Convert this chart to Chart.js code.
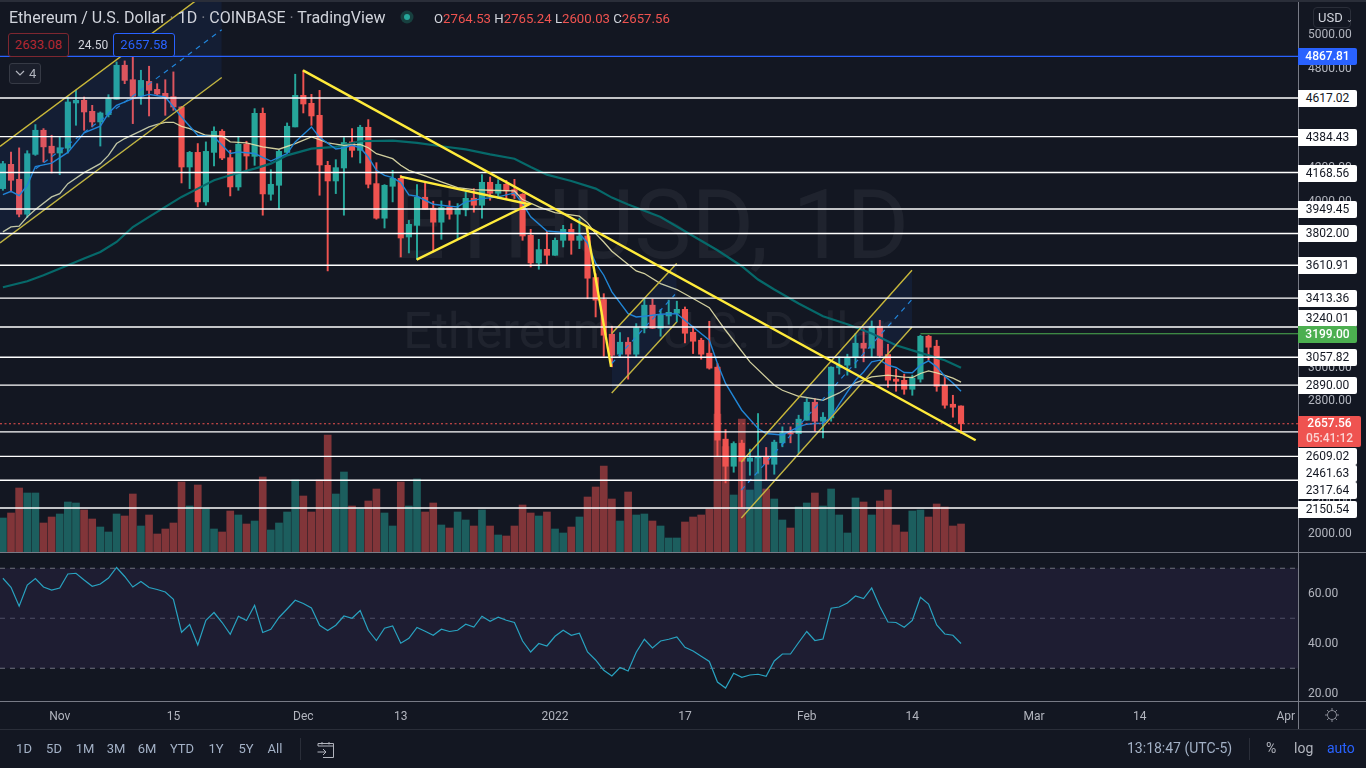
<!DOCTYPE html>
<html>
<head>
<meta charset="utf-8">
<title>ETHUSD 1D</title>
<script src="https://cdn.jsdelivr.net/npm/chart.js@4/dist/chart.umd.min.js"></script>
<style>
html, body { margin: 0; padding: 0; background: #131722; overflow: hidden; }
body { width: 1366px; height: 768px; position: relative; font-family: Roboto, sans-serif; }
canvas { position: absolute; left: 0; top: 0; }
.abs { position: absolute; white-space: nowrap; }
.rule { position: absolute; background: #787b86; }
.tag { position: absolute; left: 1298px; width: 59px; height: 17px; line-height: 17px; text-align: center; font-size: 12px; background: #fff; color: #131722; border-radius: 0 2px 2px 0; }
.btn { position: absolute; top: 741px; font-size: 13px; color: #a3b1c6; transform: translateX(-50%); }
.box { position: absolute; top: 33px; height: 22px; line-height: 22px; text-align: center; font-size: 13px; border-radius: 3px; border: 1px solid; background: #131722; }
</style>
</head>
<body>
<canvas id="grafik" width="1366" height="768"></canvas>

<div class="abs" style="left:0;top:0;width:1366px;height:2px;background:#2a2e39"></div>
<div class="rule" style="left:0;top:552px;width:1366px;height:1px"></div>
<div class="rule" style="left:0;top:701px;width:1366px;height:1px"></div>
<div class="rule" style="left:0;top:729px;width:1366px;height:1px;background:#2a2e39"></div>
<div class="rule" style="left:1298px;top:701px;width:1px;height:28px"></div>

<div class="abs" style="left:9px;top:8px;font-size:16px;color:#d1d4dc">Ethereum / U.S. Dollar <span style="color:#787b86">·</span> 1D <span style="color:#787b86">·</span> COINBASE <span style="color:#787b86">·</span> TradingView</div>
<svg class="abs" style="left:399px;top:9px" width="16" height="16"><circle cx="8" cy="8" r="6.5" fill="#17403f"/><circle cx="8" cy="8" r="3" fill="#26a69a"/></svg>
<div class="abs" style="left:434px;top:11px;font-size:13.2px;color:#d1d4dc">O<span style="color:#ef5350">2764.53</span> H<span style="color:#ef5350">2765.24</span> L<span style="color:#ef5350">2600.03</span> C<span style="color:#ef5350">2657.56</span></div>
<div class="box" style="left:8px;width:59px;color:#b22833;border-color:#7d2730">2633.08</div>
<div class="abs" style="left:78px;top:38px;font-size:12px;color:#d1d4dc">24.50</div>
<div class="box" style="left:113px;width:60px;color:#2962ff;border-color:#2962ff">2657.58</div>
<div class="abs" style="left:9px;top:63px;width:30px;height:19px;border:1px solid #363a45;border-radius:3px;background:#1b1f2b"></div>
<svg class="abs" style="left:15px;top:69px" width="10" height="8"><path d="M1 2 L5 6 L9 2" fill="none" stroke="#b2b5be" stroke-width="1.2"/></svg>
<div class="abs" style="left:29px;top:66px;font-size:13px;color:#b2b5be">4</div>
<div class="abs" style="left:1313px;top:7px;width:36px;height:19px;line-height:19px;border:1px solid #2a2e39;border-radius:4px;font-size:13px;color:#d1d4dc;text-indent:4px">USD <span style="font-size:8px;color:#b2b5be">⌄</span></div>

<div class="btn" style="left:24px">1D</div>
<div class="btn" style="left:54px">5D</div>
<div class="btn" style="left:85px">1M</div>
<div class="btn" style="left:116px">3M</div>
<div class="btn" style="left:147px">6M</div>
<div class="btn" style="left:182px">YTD</div>
<div class="btn" style="left:216px">1Y</div>
<div class="btn" style="left:246px">5Y</div>
<div class="btn" style="left:275px">All</div>
<div class="rule" style="left:300px;top:738px;width:1px;height:22px;background:#2a2e39"></div>
<svg class="abs" style="left:317px;top:741px" width="18" height="18" fill="none" stroke="#b2b5be" stroke-width="1"><path d="M1 5 V2.5 H16.5 V16.5 H6 M1 5 H16.5 M5 1 V3.5 M12 1 V3.5 M0.5 11 H9 M6 8 L9 11 L6 14"/></svg>
<div class="abs" style="left:1127px;top:740px;font-size:14px;color:#a3b1c6">13:18:47 (UTC-5)</div>
<div class="rule" style="left:1249px;top:738px;width:1px;height:22px;background:#2a2e39"></div>
<div class="abs" style="left:1266px;top:740px;font-size:14px;color:#b2b5be">%</div>
<div class="abs" style="left:1294px;top:740px;font-size:14px;color:#b2b5be">log</div>
<div class="abs" style="left:1327px;top:740px;font-size:14px;color:#2962ff">auto</div>
<svg class="abs" style="left:1324px;top:707px" width="16" height="16" fill="none" stroke="#868993" stroke-width="1"><circle cx="8" cy="8" r="4.5"/><path d="M8 1 V3.5 M8 12.5 V15 M1 8 H3.5 M12.5 8 H15 M3 3 L4.8 4.8 M11.2 11.2 L13 13 M3 13 L4.8 11.2 M11.2 4.8 L13 3"/></svg>

<script>
// Mumlar: Oct 25 = 0, Feb 20 = 118, birer gün
const opens = [
  4072,4218,4128,3918,4278,4423,4327,4286,4315,4587,
  4603,4537,4473,4517,4609,4814,4727,4629,4717,4669,
  4645,4625,4563,4202,4290,3992,4290,4417,4258,4082,
  4339,4266,4525,4038,4092,4290,4443,4633,4585,4513,
  4212,4118,4196,4353,4302,4441,4102,3894,4086,4134,
  3781,3851,4020,3954,3870,3960,3918,3944,4014,3972,
  4110,4044,4098,4066,4038,3791,3625,3707,3671,3761,
  3827,3761,3787,3537,3405,3196,3076,3148,3076,3232,
  3371,3232,3306,3322,3346,3208,3160,3082,2998,2565,
  2402,2541,2432,2452,2462,2414,2543,2603,2598,2679,
  2787,2673,2693,2994,3010,3056,3142,3112,3244,3074,
  2926,2919,2865,2926,3184,3124,2889,2775,2764.53
];
const highs = [
  4236,4292,4317,4300,4457,4433,4393,4383,4623,4663,
  4623,4573,4533,4637,4834,4840,4864,4784,4808,4703,
  4727,4774,4567,4296,4343,4353,4443,4427,4303,4387,
  4357,4553,4557,4186,4303,4467,4760,4784,4639,4663,
  4236,4246,4379,4433,4453,4487,4228,4096,4182,4152,
  3881,4096,4108,3996,3998,3998,3982,4052,4072,4156,
  4142,4126,4122,4128,4042,3827,3767,3815,3775,3851,
  3861,3892,3841,3560,3440,3244,3206,3176,3260,3411,
  3407,3345,3401,3395,3360,3244,3172,3274,3020,2623,
  2549,2559,2505,2719,2515,2559,2639,2639,2709,2809,
  2809,2725,3000,3060,3076,3200,3230,3276,3280,3136,
  2986,2956,2950,3190,3190,3160,2944,2829,2765.24
];
const lows = [
  4062,4052,3902,3898,4272,4232,4166,4156,4286,4453,
  4423,4443,4328,4503,4609,4703,4463,4579,4509,4633,
  4513,4543,4106,4072,3962,3972,4208,4246,4028,4062,
  4172,4212,3912,4002,3948,4286,4443,4527,4453,4032,
  3577,4042,3912,4262,4226,4076,3888,3835,3992,3661,
  3685,3645,3948,3691,3767,3888,3771,3908,3930,3894,
  4002,4012,4012,4012,3761,3601,3587,3617,3671,3721,
  3677,3711,3410,3300,3064,3000,3060,2926,3060,3204,
  3230,3184,3256,3270,3144,3080,3046,2986,2463,2302,
  2366,2158,2348,2360,2318,2354,2519,2543,2479,2679,
  2613,2573,2673,2956,2950,2994,3030,3056,3056,2877,
  2853,2835,2829,2908,3040,2853,2751,2697,2600.03
];
const closes = [
  4222,4122,3918,4282,4423,4323,4286,4318,4593,4603,
  4533,4473,4527,4613,4814,4723,4627,4723,4663,4641,
  4621,4563,4202,4290,3992,4296,4417,4256,4082,4339,
  4268,4525,4040,4098,4296,4447,4633,4581,4509,4214,
  4118,4198,4349,4302,4441,4098,3894,4092,4134,3775,
  3857,4020,3948,3870,3958,3918,3948,4014,3972,4110,
  4044,4098,4058,4032,3787,3625,3705,3671,3761,3827,
  3761,3787,3533,3401,3190,3070,3148,3076,3236,3371,
  3232,3310,3328,3346,3202,3154,3076,2992,2559,2402,
  2539,2432,2452,2462,2414,2547,2603,2596,2685,2787,
  2673,2697,2998,3010,3056,3142,3112,3244,3068,2920,
  2913,2865,2932,3184,3118,2883,2769,2757,2657.56
];
const volumes = [
  102,117,192,177,177,87,105,114,150,147,
  126,99,75,60,114,108,174,78,111,54,
  69,87,210,138,201,129,69,60,123,111,
  84,93,225,66,87,120,216,168,120,216,
  351,174,240,138,129,153,189,117,78,210,
  138,219,120,147,81,72,120,96,78,126,
  78,51,48,78,141,117,108,120,69,57,
  75,105,165,195,258,159,93,180,111,114,
  93,78,42,42,90,105,111,129,414,316,
  171,399,186,286,189,159,96,72,135,147,
  177,138,189,111,57,162,150,111,153,186,
  81,60,123,126,105,144,135,78,84
];
const rsiValues = [
  66,62.4,54.8,63.3,65.9,62.5,61.3,62.1,67.7,68,
  65.3,62.8,63.7,66.1,70.3,66.7,62.5,64.7,62.3,61.5,
  60.5,57.6,44.4,47.5,39.3,49.2,52.3,48.3,43.6,50.8,
  49.1,55.2,44.3,45.6,50.3,53.7,57.2,55.9,54.1,47.2,
  45.1,47.2,50.9,50,53.1,45.2,41.1,46,46.9,40,
  42,46.3,44.8,43.2,45.6,44.7,45.2,47.6,46.5,50.8,
  48.8,50.4,49.2,48.3,40.9,36.5,39.9,38.9,42.8,45.2,
  43.2,44,36.5,33.3,29.2,26.9,30.3,28.9,36.4,41.6,
  38.1,40.9,41.6,42.5,38.4,36.9,34.8,32.7,24.5,22.1,
  28,26.4,27.3,27.6,26.8,32.9,35.7,35.7,40.3,44.7,
  41.1,41.7,54,54.5,56.1,58.9,57.9,62.1,54.7,48.5,
  48.3,46.4,49.1,58.4,55.7,47.3,43.7,43.2,39.9
];

// Hareketli ortalamalar: resimden okunan noktalar (gün, fiyat)
const fastDays = [0,1,2,3,4,5,6,8,10,12,13,14,16,18,20,21,22,24,26,28,29,31,33,35,36,38,39,41,42,43,44,45,46,47,48,49,50,51,53,55,56,57,59,61,63,64,65,67,69,71,72,73,74,75,77,78,79,81,83,85,87,88,89,91,93,94,96,98,99,100,101,102,103,104,105,106,107,108,109,110,111,112,113,114,115,116,117,118];
const fastMa = [4036,4056,4030,4092,4205,4215,4225,4290,4407,4447,4525,4573,4613,4639,4623,4563,4503,4393,4383,4283,4292,4283,4238,4283,4353,4443,4380,4310,4318,4333,4318,4262,4182,4152,4138,4108,4034,4026,3978,3966,3962,3992,4012,4022,4046,3982,3902,3817,3809,3801,3745,3623,3551,3451,3320,3300,3304,3316,3320,3240,3160,3020,2900,2739,2629,2599,2590,2639,2655,2659,2661,2699,2775,2849,2919,2969,3030,3040,3010,2996,2966,2964,3010,3036,3000,2944,2903,2853];
const midDays = [0,1,2,3,4,6,7,8,10,12,13,14,15,17,18,19,20,21,22,23,25,27,28,30,32,34,36,38,39,40,42,44,45,46,48,49,50,52,54,56,58,60,63,64,66,68,71,72,73,74,75,78,79,81,83,85,87,89,92,95,96,98,100,101,103,105,107,109,111,112,113,114,115,116,117,118];
const midMa = [3812,3842,3846,3902,3946,4022,4042,4102,4168,4222,4272,4343,4373,4419,4443,4459,4471,4471,4447,4433,4393,4387,4353,4347,4323,4309,4343,4383,4367,4347,4332,4338,4318,4282,4252,4212,4182,4148,4112,4078,4066,4062,4058,4006,3962,3928,3906,3866,3801,3751,3695,3577,3561,3501,3465,3411,3356,3220,3030,2889,2859,2823,2807,2799,2843,2904,2940,2950,2938,2936,2960,2976,2964,2948,2932,2908];
const slowDays = [0,3,5,8,10,12,14,16,18,20,22,24,26,28,31,33,35,38,41,44,48,51,54,57,60,63,65,67,70,73,75,77,81,88,91,93,95,98,101,104,107,110,113,116,118];
const slowMa = [3479,3515,3551,3611,3651,3691,3751,3841,3902,3962,4022,4072,4122,4152,4192,4222,4272,4312,4323,4357,4361,4347,4327,4308,4278,4252,4202,4156,4118,4072,4018,3976,3901,3701,3605,3525,3465,3381,3304,3256,3200,3130,3084,3040,2994];

// Eksen etiketleri
const timeTickDays = [7,21,37,49,68,84,99,112,127,140,158];
const timeTickLabels = ['Nov','15','Dec','13','2022','17','Feb','14','Mar','14','Apr'];
const priceTicks = [5000,4800,4200,4000,3000,2800,2200,2000];
const rsiTicks = [60,40,20];

// Yatay seviyeler
const levelPrices = [4617.02,4384.43,4168.56,3949.45,3802,3610.91,3413.36,3240.01,3057.82,2890,2609.02,2461.63,2317.64,2150.54];
const highLevel = 4867.81;
const greenLevel = 3199;
const lastPrice = 2657.56;

// Trend çizgileri: [gün, fiyat]
const mainTrend = [[36.96,4783.5],[119.8,2558.6]];
const wedge = [[48.94,4144],[64.83,3978],[50.96,3645]];
const dropLine = [[71.9,3841],[74.9,3000]];
const channelA = { up: [[-0.36,4326],[26.95,5318]], low: [[-0.36,3745],[26.95,4740]], mid: [[4.04,4192],[26.95,5028]] };
const channelB = { up: [[74.98,3200],[82.98,3621]], low: [[74.98,2843],[82.98,3270]], mid: [[74.98,3020],[82.77,3435]] };
const channelC = { up: [[90.94,2428],[111.96,3581]], low: [[90.94,2091],[111.96,3240]], mid: [[90.94,2258],[111.96,3405]] };

// Tüm y eksenleri grafik alanını (0-700px) kaplar, panel yerleri aralıklarla ayarlanır
const xMin = -0.357, xMax = 159.5;
const priceMin = 996, priceMax = 5206.5;
const volumeMin = -444, volumeMax = 1656;
const rsiMin = 17.3, rsiMax = 297.3;

const UP = '#26a69a', DOWN = '#ef5350';
const isUp = closes.map((c, i) => c >= opens[i]);
const candleColors = isUp.map(u => u ? UP : DOWN);
const volumeColors = isUp.map(u => u ? 'rgba(38,166,154,0.5)' : 'rgba(239,83,80,0.5)');

function pts(pairs) { return pairs.map(p => ({ x: p[0], y: p[1] })); }

function lineDs(points, color, width, order, extra) {
    return Object.assign({
        type: 'line', data: points, borderColor: color, borderWidth: width,
        pointRadius: 0, tension: 0, fill: false, yAxisID: 'y', xAxisID: 'x', order: order
    }, extra || {});
}

function hLine(price, color, width, order, extra, from) {
    return lineDs(pts([[from === undefined ? xMin : from, price],[xMax, price]]), color, width, order, extra);
}

function channelDs(ch) {
    const thin = '#c9b83a';
    const fillColor = 'rgba(33,110,243,0.09)';
    return [
        lineDs(pts(ch.up), thin, 1.4, 3, { fill: '+1', backgroundColor: fillColor }),
        lineDs(pts(ch.low), thin, 1.4, 3),
        lineDs(pts(ch.mid), '#2186d6', 1.2, 3, { borderDash: [5, 5] })
    ];
}

const datasets = [
    // hacim
    { type: 'bar', data: volumes.map((v, i) => ({ x: i, y: v })), backgroundColor: volumeColors, yAxisID: 'yVolume', xAxisID: 'x', barThickness: 7, grouped: false, order: 12 },
    // fitil ve gövde
    { type: 'bar', data: lows.map((l, i) => ({ x: i, y: [l, highs[i]] })), backgroundColor: candleColors, yAxisID: 'y', xAxisID: 'x', barThickness: 1.3, grouped: false, order: 10 },
    { type: 'bar', data: opens.map((o, i) => ({ x: i, y: [o, closes[i]] })), backgroundColor: candleColors, yAxisID: 'y', xAxisID: 'x', barThickness: 5.5, grouped: false, minBarLength: 1, order: 9 },
    // ortalamalar
    lineDs(slowDays.map((d, i) => ({ x: d, y: slowMa[i] })), '#06696a', 2.2, 8),
    lineDs(midDays.map((d, i) => ({ x: d, y: midMa[i] })), 'rgba(230,226,172,0.9)', 1.3, 7),
    lineDs(fastDays.map((d, i) => ({ x: d, y: fastMa[i] })), '#2186d6', 1.4, 6),
    // RSI bandı
    lineDs(pts([[xMin, 70],[xMax, 70]]), '#6f727d', 1, 5, { yAxisID: 'yRsi', borderDash: [5, 5], fill: '+1', backgroundColor: 'rgba(126,87,194,0.1)' }),
    lineDs(pts([[xMin, 30],[xMax, 30]]), '#6f727d', 1, 5, { yAxisID: 'yRsi', borderDash: [5, 5] }),
    lineDs(pts([[xMin, 50],[xMax, 50]]), '#4b4e5c', 1, 5, { yAxisID: 'yRsi', borderDash: [5, 5] }),
    lineDs(rsiValues.map((v, i) => ({ x: i, y: v })), '#29a3c1', 1.2, 4, { yAxisID: 'yRsi' }),
    // seviyeler
    hLine(lastPrice, DOWN, 1.2, 4, { borderDash: [2, 2.5] }),
    hLine(highLevel, '#2962ff', 1.2, 2),
    hLine(greenLevel, '#4caf50', 1.2, 2, {}, 113)
];
levelPrices.forEach(p => datasets.push(hLine(p, '#ffffff', 1.4, 2)));
[channelA, channelB, channelC].forEach(ch => channelDs(ch).forEach(d => datasets.push(d)));
datasets.push(lineDs(pts(mainTrend), '#ffeb3b', 2.4, 1));
datasets.push(lineDs(pts(wedge), '#ffeb3b', 2.4, 1));
datasets.push(lineDs(pts(dropLine), '#ffeb3b', 2.4, 1));

// Filigran yazıları mumların arkasına, RSI etiketleri sağ eksene
const chartTexts = {
    id: 'chartTexts',
    beforeDatasetsDraw(chart) {
        const ctx = chart.ctx;
        ctx.save();
        ctx.fillStyle = 'rgba(255,255,255,0.055)';
        ctx.textAlign = 'center';
        ctx.textBaseline = 'middle';
        ctx.font = '96px Roboto';
        ctx.fillText('ETHUSD, 1D', 650, 234);
        ctx.font = '50px Roboto';
        ctx.fillText('Ethereum / U.S. Dollar', 648, 335);
        ctx.restore();
    },
    afterDraw(chart) {
        const ctx = chart.ctx;
        ctx.save();
        ctx.fillStyle = '#b2b5be';
        ctx.font = '12px Roboto';
        ctx.textAlign = 'left';
        ctx.textBaseline = 'middle';
        rsiTicks.forEach(v => ctx.fillText(v.toFixed(2), 1308, chart.scales.yRsi.getPixelForValue(v) + 1));
        ctx.restore();
    }
};

// Etiket taşması için eklenen kenar boşluklarını sıfırla
function noPadding(s) {
    s.paddingLeft = 0; s.paddingRight = 0; s.paddingTop = 0; s.paddingBottom = 0;
}

const chart = new Chart(document.getElementById('grafik'), {
    data: { datasets: datasets },
    plugins: [chartTexts],
    options: {
        responsive: false,
        animation: false,
        layout: { autoPadding: false, padding: 0 },
        plugins: { legend: { display: false }, tooltip: { enabled: false } },
        scales: {
            x: {
                type: 'linear', position: 'bottom', min: xMin, max: xMax, offset: false,
                grid: { display: false, drawTicks: false }, border: { display: false },
                afterBuildTicks: s => { s.ticks = timeTickDays.map(v => ({ value: v })); },
                afterFit: s => { s.height = 68; noPadding(s); },
                ticks: { autoSkip: false, maxRotation: 0, padding: 10, color: '#b2b5be', font: { family: 'Roboto', size: 12 },
                    callback: (v, i) => timeTickLabels[i] }
            },
            y: {
                type: 'linear', position: 'right', min: priceMin, max: priceMax,
                grid: { display: false, drawTicks: false }, border: { color: '#787b86' },
                afterBuildTicks: s => { s.ticks = priceTicks.map(v => ({ value: v })); },
                afterFit: s => { s.width = 68; noPadding(s); },
                ticks: { autoSkip: false, padding: 10, crossAlign: 'near', labelOffset: 1, color: '#b2b5be', font: { family: 'Roboto', size: 12 },
                    callback: v => Number(v).toFixed(2) }
            },
            yVolume: { type: 'linear', axis: 'y', display: false, min: volumeMin, max: volumeMax },
            yRsi: { type: 'linear', axis: 'y', display: false, min: rsiMin, max: rsiMax }
        }
    }
});

// Sağdaki fiyat etiketleri; sıkışanlar kaydırılmış
const tagShift = { 2609.02: 24, 2461.63: 17, 2317.64: 10, 2150.54: 1, 3240.01: -9 };

function addTag(price, color, bg, text) {
    const tag = document.createElement('div');
    tag.className = 'tag';
    tag.textContent = text || price.toFixed(2);
    const y = chart.scales.y.getPixelForValue(price) + (tagShift[price] || 0);
    tag.style.top = Math.round(y - 8) + 'px';
    if (bg) { tag.style.background = bg; tag.style.color = color; tag.style.fontWeight = '500'; }
    document.body.appendChild(tag);
    return tag;
}

levelPrices.forEach(p => addTag(p));
addTag(highLevel, '#fff', '#2962ff');
addTag(greenLevel, '#fff', '#4caf50');

const lastTag = addTag(lastPrice, '#fff', DOWN);
lastTag.style.width = '63px';
lastTag.style.height = '31px';
lastTag.style.lineHeight = '15px';
lastTag.style.top = '416px';
lastTag.innerHTML = '2657.56<br><span style="color:rgba(255,255,255,.75)">05:41:12</span>';
</script>
</body>
</html>
